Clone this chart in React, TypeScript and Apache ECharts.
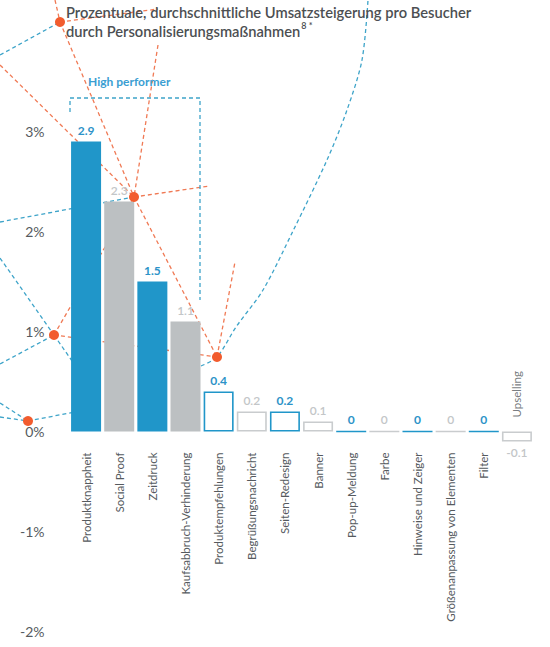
import React, { useEffect, useRef } from 'react';
import * as echarts from 'echarts';

// Personalisation measures and their average revenue uplift per visitor (in %)
const categories = [
  'Produktknappheit',
  'Social Proof',
  'Zeitdruck',
  'Kaufsabbruch-Verhinderung',
  'Produktempfehlungen',
  'Begrüßungsnachricht',
  'Seiten-Redesign',
  'Banner',
  'Pop-up-Meldung',
  'Farbe',
  'Hinweise und Zeiger',
  'Größenanpassung von Elementen',
  'Filter',
  'Upselling',
];
const upliftPercent = [2.9, 2.3, 1.5, 1.1, 0.4, 0.2, 0.2, 0.1, 0, 0, 0, 0, 0, -0.1];
const tones = ['blue', 'gray', 'blue', 'gray', 'blue', 'gray', 'blue', 'gray', 'blue', 'gray', 'blue', 'gray', 'blue', 'gray'];
const highPerformerCount = 4;

// value axis range and tick step
const yMin = -2;
const yMax = 3;
const yStep = 1;

const FONT = 'Lato, "Open Sans", sans-serif';
const BLUE = '#2096c9';
const GRAY = '#bcc0c2';
const GRAY_OUTLINE = '#c9ccce';
const BLUE_LABEL = '#2d93c8';
const GRAY_LABEL = '#c3c6c8';
const TEXT = '#555a5e';
const DECO_BLUE = '#3ea4c9';
const DECO_ORANGE = '#f07a55';
const DOT = '#f25c2e';

const WIDTH = 550;
const HEIGHT = 647;
const GRID = { left: 69.5, right: 16.5, top: 131.5, bottom: 15.5 };

type Pt = [number, number];

// decorative network of dashed lines with orange nodes
const nodes: Pt[] = [[60, 22], [134, 197], [54, 335], [217, 357], [28, 421]];
const orangeLinks: [Pt, Pt][] = [
  [[55, 0], [60, 22]],
  [[60, 22], [134, 197]],
  [[60, 22], [158, 9]],
  [[0, 65], [134, 197]],
  [[158, 45], [134, 197]],
  [[134, 197], [210, 186]],
  [[134, 197], [217, 357]],
  [[54, 335], [134, 197]],
  [[54, 335], [217, 357]],
  [[217, 357], [235, 262]],
];
const blueLinks: [Pt, Pt][] = [
  [[0, 55], [60, 22]],
  [[0, 222], [134, 197]],
  [[0, 258], [54, 335]],
  [[54, 335], [95, 394]],
  [[0, 364], [54, 335]],
  [[0, 403], [28, 421]],
  [[0, 417], [28, 421]],
  [[28, 421], [75, 412]],
];
const arcPoints: Pt[] = [[201, 366], [217, 357], [236, 327], [263, 290], [293, 231], [327, 160], [347, 110], [362, 60], [368, 0]];

function dashed(color: string) {
  return { stroke: color, lineWidth: 1.3, lineDash: [4, 3], fill: 'none' };
}

export default function App() {
  const ref = useRef<HTMLDivElement>(null);

  useEffect(() => {
    if (!ref.current) return;
    const chart = echarts.init(ref.current, undefined, { renderer: 'svg' });

    const barData = upliftPercent.map((v, i) => {
      const isBlue = tones[i] === 'blue';
      const tone = isBlue ? BLUE : GRAY;
      const filled = i < highPerformerCount;
      return {
        value: v,
        itemStyle: filled
          ? { color: tone }
          : { color: '#ffffff', borderColor: isBlue ? BLUE : GRAY_OUTLINE, borderWidth: 1.6 },
        label: {
          position: v < 0 ? 'bottom' : 'top',
          color: isBlue ? BLUE_LABEL : GRAY_LABEL,
          fontWeight: isBlue ? 'bold' : 600,
        },
      };
    });

    // names of negative categories are written above the baseline
    const flippedNames = categories
      .map((c, i) => (upliftPercent[i] < 0 ? [c, 0] : null))
      .filter((d) => d !== null);

    // lift the category axis from the grid bottom up to the zero line
    const plotHeight = HEIGHT - GRID.top - GRID.bottom;
    const zeroOffset = -((0 - yMin) / (yMax - yMin)) * plotHeight;

    const graphics: any[] = [];
    orangeLinks.forEach(([a, b]) =>
      graphics.push({ type: 'line', z: 1, silent: true, shape: { x1: a[0], y1: a[1], x2: b[0], y2: b[1] }, style: dashed(DECO_ORANGE) })
    );
    blueLinks.forEach(([a, b]) =>
      graphics.push({ type: 'line', z: 1, silent: true, shape: { x1: a[0], y1: a[1], x2: b[0], y2: b[1] }, style: dashed(DECO_BLUE) })
    );
    graphics.push({ type: 'polyline', z: 1, silent: true, shape: { points: arcPoints, smooth: 0.3 }, style: dashed(DECO_BLUE) });
    // "High performer" bracket
    graphics.push({
      type: 'polyline', z: 1, silent: true,
      shape: { points: [[70, 112], [70, 98], [200, 98], [200, 300]] },
      style: dashed(DECO_BLUE),
    });
    graphics.push({
      type: 'text', z: 5, silent: true, x: 88, y: 81,
      style: { text: 'High performer', fill: '#3a9ed2', font: `bold 12px ${FONT}`, verticalAlign: 'middle' },
    });
    nodes.forEach(([x, y]) =>
      graphics.push({ type: 'circle', z: 10, silent: true, shape: { cx: x, cy: y, r: 5 }, style: { fill: DOT } })
    );

    chart.setOption({
      animation: false,
      backgroundColor: '#ffffff',
      title: {
        text: 'Prozentuale, durchschnittliche Umsatzsteigerung pro Besucher\ndurch Personalisierungsmaßnahmen{sup|8 *}',
        left: 66,
        top: 2,
        padding: 0,
        textStyle: {
          fontFamily: FONT,
          fontSize: 14.7,
          fontWeight: 600,
          color: '#4c4f52',
          lineHeight: 19,
          rich: {
            sup: { fontFamily: FONT, fontSize: 9, fontWeight: 600, color: '#4c4f52', verticalAlign: 'top', lineHeight: 19, padding: [0, 0, 6, 1] },
          },
        },
      },
      graphic: graphics,
      grid: { ...GRID, outerBoundsMode: 'none', containLabel: false },
      xAxis: {
        type: 'category',
        data: categories,
        offset: zeroOffset,
        axisLine: { show: false, onZero: false },
        axisTick: { show: false },
        axisLabel: {
          rotate: 90,
          margin: 21,
          interval: 0,
          fontFamily: FONT,
          fontSize: 11.5,
          color: TEXT,
          formatter: (v: string) => (upliftPercent[categories.indexOf(v)] < 0 ? '' : v),
        },
      },
      yAxis: {
        type: 'value',
        min: yMin,
        max: yMax,
        interval: yStep,
        axisLine: { show: false },
        axisTick: { show: false },
        splitLine: { show: false },
        axisLabel: {
          margin: 25,
          fontFamily: FONT,
          fontSize: 14,
          color: TEXT,
          formatter: '{value}%',
        },
      },
      series: [
        {
          type: 'bar',
          data: barData,
          barWidth: 30,
          z: 2,
          label: { show: true, distance: 5, fontFamily: FONT, fontSize: 12 },
        },
        {
          type: 'scatter',
          data: flippedNames,
          symbolSize: 0,
          silent: true,
          z: 3,
          label: {
            show: true,
            position: 'top',
            distance: 14,
            rotate: 90,
            align: 'left',
            verticalAlign: 'middle',
            fontFamily: FONT,
            fontSize: 11.5,
            color: TEXT,
            formatter: (p: any) => p.value[0],
          },
        },
      ],
    });

    return () => chart.dispose();
  }, []);

  return <div ref={ref} style={{ position: 'fixed', left: 0, top: 0, width: WIDTH, height: HEIGHT }} />;
}
